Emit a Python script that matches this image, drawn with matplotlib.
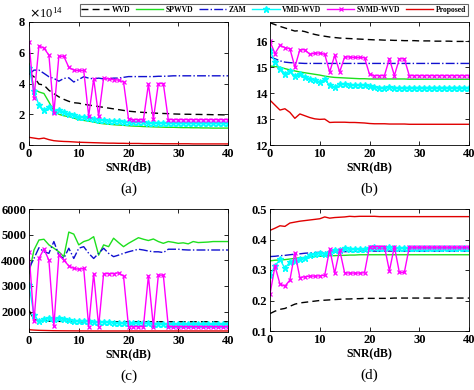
import matplotlib
matplotlib.use('Agg')
import matplotlib.pyplot as plt
from matplotlib.ticker import ScalarFormatter

snr = list(range(41))

# (a) values in units of 1e14
wvd_a = [4.66, 4.44, 3.96, 3.9, 3.56, 3.34, 3.13, 2.97, 2.84, 2.75, 2.72, 2.65, 2.6, 2.55, 2.5, 2.45, 2.4, 2.35, 2.3, 2.25,
         2.2, 2.17, 2.14, 2.12, 2.1, 2.08, 2.06, 2.05, 2.04, 2.02, 2.01, 2.0, 2.0, 1.99, 1.99, 1.98, 1.98, 1.97, 1.97, 1.96, 1.96]
spwvd_a = [5.3, 3.65, 3.45, 3.35, 2.8, 2.2, 2.0, 1.9, 1.85, 1.75, 1.65, 1.6, 1.55, 1.5, 1.42, 1.38, 1.35, 1.32, 1.3, 1.28,
           1.25, 1.23, 1.22, 1.2, 1.19, 1.18, 1.17, 1.16, 1.15, 1.15, 1.14, 1.13, 1.13, 1.12, 1.12, 1.11, 1.11, 1.1, 1.1, 1.1, 1.1]
zam_a = [4.6, 4.87, 4.87, 4.66, 4.44, 4.33, 4.15, 4.33, 4.37, 4.1, 4.26, 4.44, 4.35, 4.3, 4.35, 4.3, 4.3, 4.35, 4.35, 4.4,
         4.45, 4.45, 4.45, 4.45, 4.45, 4.45, 4.47, 4.47, 4.48, 4.5, 4.5, 4.5, 4.5, 4.5, 4.5, 4.5, 4.5, 4.5, 4.5, 4.5, 4.5]
vmd_a = [5.03, 3.5, 2.6, 2.25, 2.48, 2.2, 2.3, 2.14, 2.03, 1.92, 1.85, 1.8, 1.75, 1.7, 1.65, 1.6, 1.58, 1.56, 1.54, 1.52,
         1.5, 1.49, 1.48, 1.47, 1.46, 1.45, 1.45, 1.44, 1.44, 1.43, 1.42, 1.42, 1.41, 1.41, 1.41, 1.4, 1.4, 1.4, 1.4, 1.4, 1.4]
svmd_a = [6.7, 3.05, 6.45, 6.3, 5.85, 2.08, 5.77, 5.77, 5.05, 4.87, 4.85, 4.85, 1.88, 4.3, 1.88, 4.35, 4.3, 4.25, 4.22, 4.1,
          1.7, 1.65, 1.65, 1.65, 3.95, 1.7, 4.0, 4.0, 1.65, 1.65, 1.65, 1.65, 1.65, 1.65, 1.65, 1.65, 1.65, 1.65, 1.65, 1.65, 1.65]
prop_a = [0.5, 0.45, 0.4, 0.45, 0.35, 0.28, 0.25, 0.23, 0.22, 0.2, 0.18, 0.17, 0.16, 0.15, 0.14, 0.13, 0.12, 0.12, 0.11, 0.11,
          0.1, 0.1, 0.1, 0.09, 0.09, 0.09, 0.09, 0.08, 0.08, 0.08, 0.08, 0.08, 0.08, 0.07, 0.07, 0.07, 0.07, 0.07, 0.07, 0.07, 0.07]

# (b)
wvd_b = [16.72, 16.65, 16.58, 16.52, 16.46, 16.4, 16.42, 16.38, 16.32, 16.27, 16.23, 16.2, 16.17, 16.15, 16.13, 16.12, 16.11,
         16.1, 16.09, 16.08, 16.07, 16.06, 16.06, 16.05, 16.05, 16.04, 16.04, 16.03, 16.03, 16.03, 16.02, 16.02, 16.02, 16.01,
         16.01, 16.01, 16.01, 16.0, 16.0, 16.0, 16.0]
spwvd_b = [15.05, 15.03, 15.0, 14.95, 14.9, 14.86, 14.82, 14.79, 14.76, 14.73, 14.7, 14.66, 14.63, 14.61, 14.6, 14.59, 14.58,
           14.57, 14.56, 14.56, 14.55, 14.55, 14.55, 14.55, 14.55, 14.55, 14.55, 14.55, 14.54, 14.54, 14.54, 14.54, 14.54,
           14.54, 14.54, 14.54, 14.54, 14.54, 14.54, 14.54, 14.54]
zam_b = [15.4, 15.33, 15.25, 15.2, 15.18, 15.17, 15.16, 15.15, 15.15, 15.15, 15.15, 15.15, 15.15, 15.15, 15.15, 15.15, 15.15,
         15.15, 15.15, 15.15, 15.15, 15.15, 15.15, 15.15, 15.15, 15.15, 15.15, 15.15, 15.15, 15.15, 15.15, 15.15, 15.15,
         15.15, 15.15, 15.15, 15.15, 15.15, 15.15, 15.15, 15.15]
vmd_b = [15.65, 15.2, 14.95, 14.76, 14.85, 14.67, 14.76, 14.63, 14.56, 14.5, 14.44, 14.53, 14.3, 14.24, 14.37, 14.35, 14.33,
         14.32, 14.3, 14.3, 14.28, 14.25, 14.22, 14.22, 14.24, 14.22, 14.21, 14.22, 14.22, 14.22, 14.22, 14.22, 14.22, 14.22,
         14.22, 14.22, 14.22, 14.22, 14.22, 14.22, 14.22]
svmd_b = [16.0, 15.53, 15.85, 15.76, 15.72, 15.01, 15.68, 15.68, 15.5, 15.55, 15.55, 15.5, 14.82, 15.46, 14.82, 15.4, 15.4,
          15.38, 15.38, 15.37, 14.73, 14.68, 14.68, 14.68, 15.33, 14.68, 15.33, 15.33, 14.68, 14.68, 14.68, 14.68, 14.68,
          14.68, 14.68, 14.68, 14.68, 14.68, 14.68, 14.68, 14.68]
prop_b = [13.73, 13.54, 13.35, 13.4, 13.26, 13.03, 13.2, 13.13, 13.06, 13.01, 12.99, 13.0, 12.87, 12.88, 12.88, 12.88, 12.87,
          12.87, 12.86, 12.85, 12.83, 12.82, 12.82, 12.82, 12.81, 12.81, 12.81, 12.81, 12.8, 12.8, 12.8, 12.8, 12.8, 12.8,
          12.8, 12.8, 12.8, 12.8, 12.8, 12.8, 12.8]

# (c)
wvd_c = [2050, 1680, 1640, 1630, 1625, 1620, 1615, 1610, 1610, 1605, 1600, 1600, 1600, 1600, 1600, 1600, 1600, 1600, 1600,
         1600, 1600, 1600, 1600, 1600, 1600, 1600, 1600, 1600, 1600, 1600, 1600, 1600, 1600, 1600, 1600, 1600, 1600, 1600,
         1600, 1600, 1600]
spwvd_c = [3480, 4400, 4790, 4820, 4600, 4470, 4330, 4140, 5100, 5020, 4600, 4730, 4790, 4920, 4200, 4600, 4530, 4860, 4690,
           4530, 4660, 4770, 4880, 4820, 4770, 4830, 4730, 4660, 4730, 4700, 4660, 4680, 4640, 4730, 4690, 4700, 4710, 4730,
           4730, 4730, 4730]
zam_c = [3680, 4070, 4490, 4330, 4270, 4730, 4200, 4070, 4470, 4070, 4470, 4530, 4270, 4070, 4270, 4470, 4270, 4140, 4200,
         4270, 4330, 4380, 4430, 4400, 4360, 4330, 4330, 4300, 4430, 4430, 4430, 4410, 4400, 4400, 4400, 4400, 4400, 4400,
         4400, 4400, 4400]
vmd_c = [3020, 1870, 1610, 1710, 1740, 1690, 1740, 1700, 1650, 1640, 1630, 1620, 1610, 1600, 1600, 1590, 1580, 1570, 1560,
         1555, 1550, 1545, 1540, 1540, 1535, 1530, 1530, 1525, 1525, 1520, 1520, 1520, 1515, 1515, 1515, 1510, 1510, 1510,
         1505, 1505, 1500]
svmd_c = [4310, 1610, 4070, 4440, 4000, 1420, 4200, 4000, 3780, 3680, 3650, 3680, 1410, 3480, 1410, 3480, 3480, 3480, 3510,
          3380, 1410, 1410, 1410, 1410, 3390, 1410, 3420, 3420, 1410, 1410, 1410, 1410, 1410, 1410, 1410, 1410, 1410, 1410,
          1410, 1410, 1410]
prop_c = [1290, 1275, 1265, 1260, 1255, 1250, 1248, 1246, 1245, 1244, 1243, 1242, 1242, 1241, 1241, 1240, 1240, 1240, 1240,
          1240, 1240, 1240, 1240, 1240, 1240, 1240, 1240, 1240, 1240, 1240, 1240, 1240, 1240, 1240, 1240, 1240, 1240, 1240,
          1240, 1240, 1240]

# (d)
wvd_d = [0.157, 0.165, 0.171, 0.174, 0.181, 0.188, 0.192, 0.194, 0.196, 0.198, 0.2, 0.201, 0.202, 0.203, 0.204, 0.205, 0.205,
         0.206, 0.206, 0.207, 0.207, 0.207, 0.207, 0.207, 0.207, 0.208, 0.208, 0.208, 0.208, 0.208, 0.208, 0.208, 0.208,
         0.208, 0.208, 0.208, 0.208, 0.208, 0.208, 0.208, 0.208]
spwvd_d = [0.33, 0.332, 0.333, 0.334, 0.336, 0.338, 0.34, 0.341, 0.343, 0.344, 0.345, 0.346, 0.347, 0.347, 0.348, 0.348,
           0.349, 0.349, 0.35, 0.35, 0.35, 0.35, 0.35, 0.35, 0.35, 0.35, 0.35, 0.35, 0.35, 0.35, 0.35, 0.35, 0.35, 0.35,
           0.35, 0.35, 0.35, 0.35, 0.35, 0.35, 0.35]
zam_d = [0.344, 0.345, 0.347, 0.348, 0.35, 0.352, 0.353, 0.355, 0.356, 0.357, 0.358, 0.358, 0.359, 0.359, 0.36, 0.36, 0.361,
         0.361, 0.361, 0.362, 0.362, 0.362, 0.362, 0.362, 0.362, 0.362, 0.362, 0.362, 0.362, 0.362, 0.362, 0.362, 0.362,
         0.362, 0.362, 0.362, 0.362, 0.362, 0.362, 0.362, 0.362]
vmd_d = [0.283, 0.313, 0.335, 0.305, 0.327, 0.33, 0.335, 0.338, 0.35, 0.353, 0.357, 0.353, 0.36, 0.364, 0.366, 0.371, 0.369,
         0.37, 0.368, 0.37, 0.372, 0.374, 0.373, 0.372, 0.374, 0.373, 0.371, 0.372, 0.373, 0.372, 0.372, 0.372, 0.372,
         0.372, 0.372, 0.372, 0.372, 0.372, 0.372, 0.372, 0.372]
svmd_d = [0.221, 0.313, 0.254, 0.247, 0.267, 0.357, 0.275, 0.278, 0.28, 0.28, 0.281, 0.283, 0.369, 0.289, 0.366, 0.291, 0.29,
          0.29, 0.29, 0.291, 0.377, 0.377, 0.377, 0.377, 0.297, 0.377, 0.292, 0.292, 0.375, 0.375, 0.375, 0.375, 0.375,
          0.375, 0.375, 0.375, 0.375, 0.375, 0.375, 0.375, 0.375]
prop_d = [0.43, 0.437, 0.445, 0.443, 0.454, 0.457, 0.46, 0.462, 0.464, 0.466, 0.468, 0.474, 0.47, 0.472, 0.473, 0.474, 0.476,
          0.475, 0.476, 0.476, 0.476, 0.476, 0.475, 0.475, 0.475, 0.475, 0.475, 0.475, 0.475, 0.475, 0.475, 0.475, 0.475,
          0.475, 0.475, 0.475, 0.475, 0.475, 0.475, 0.475, 0.475]

names = ['WVD', 'SPWVD', 'ZAM', 'VMD-WVD', 'SVMD-WVD', 'Proposed']
styles = [
    dict(color='black', linestyle=(0, (5, 3)), lw=1.0),
    dict(color='#1ee01e', linestyle='-', lw=1.0),
    dict(color='#1010d0', linestyle='-.', lw=1.0),
    dict(color='#00ffff', linestyle='-', lw=1.0, marker='*', markersize=4.5),
    dict(color='#ff00ff', linestyle='-', lw=1.0, marker='x', markersize=3, markeredgewidth=0.9),
    dict(color='#e00000', linestyle='-', lw=1.0),
]

panels = [
    ('(a)', [wvd_a, spwvd_a, zam_a, vmd_a, svmd_a, prop_a], 1e14, (0, 8), [0, 2, 4, 6, 8]),
    ('(b)', [wvd_b, spwvd_b, zam_b, vmd_b, svmd_b, prop_b], 1, (12, 16.75), [12, 13, 14, 15, 16]),
    ('(c)', [wvd_c, spwvd_c, zam_c, vmd_c, svmd_c, prop_c], 1, (1200, 6000), [2000, 3000, 4000, 5000, 6000]),
    ('(d)', [wvd_d, spwvd_d, zam_d, vmd_d, svmd_d, prop_d], 1, (0.1, 0.5), [0.1, 0.2, 0.3, 0.4, 0.5]),
]

W, H = 474, 390
# axes boxes in pixels: left, top, right, bottom
boxes = [(29, 22, 228, 145), (270, 22, 469, 145), (29, 209, 228, 332), (270, 209, 469, 331)]

plt.rcParams['font.family'] = 'Liberation Serif'
fig = plt.figure(figsize=(W / 100, H / 100), dpi=100)

handles = []
for (tag, series, scale, ylim, yticks), (l, t, r, b) in zip(panels, boxes):
    ax = fig.add_axes([l / W, 1 - b / H, (r - l) / W, (b - t) / H])
    lines = []
    for vals, st in zip(series, styles):
        ln, = ax.plot(snr, [v * scale for v in vals], **st)
        lines.append(ln)
    if not handles:
        handles = lines
    ax.set_xlim(0, 40)
    ax.set_ylim(ylim[0] * scale, ylim[1] * scale)
    ax.set_xticks([0, 10, 20, 30, 40])
    ax.set_yticks([v * scale for v in yticks])
    ax.tick_params(direction='in', top=True, right=True, length=3, width=0.6, labelsize=9, pad=2)
    for lab in ax.get_xticklabels() + ax.get_yticklabels():
        lab.set_fontweight('bold')
    if scale != 1:
        fmt = ScalarFormatter(useMathText=True)
        fmt.set_powerlimits((0, 0))
        ax.yaxis.set_major_formatter(fmt)
        ax.yaxis.get_offset_text().set_fontsize(9)
    for sp in ax.spines.values():
        sp.set_linewidth(0.6)
    ax.set_xlabel('SNR(dB)', fontsize=8.5, fontweight='bold', labelpad=1)
    fig.text((l + r) / 2 / W, 1 - (b + 44) / H, tag, fontsize=11, ha='center', va='center')

leg = fig.legend(handles, names, ncol=6, loc='upper right', bbox_to_anchor=(472 / W, 1.0),
                 prop={'family': 'Liberation Serif', 'weight': 'bold', 'size': 5.5},
                 handlelength=3.6, handletextpad=0.35, columnspacing=0.7, borderpad=0.25,
                 fancybox=False, framealpha=1)
leg.get_frame().set_edgecolor('#666666')
leg.get_frame().set_linewidth(0.8)

fig.savefig('out.png', dpi=100)
